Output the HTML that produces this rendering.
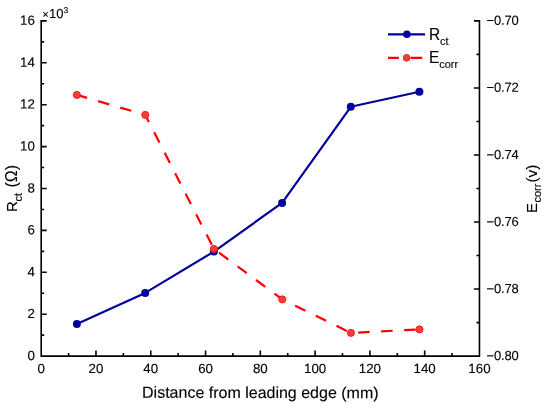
<!DOCTYPE html><html><head><meta charset="utf-8"><style>html,body{margin:0;padding:0;background:#fff;}svg{display:block;}</style></head><body>
<svg width="550" height="409" viewBox="0 0 550 409" font-family="'Liberation Sans', Arial, sans-serif">
<rect width="550" height="409" fill="#fff"/>
<path d="M41.2,20.9V356.1H479.45V20.9" stroke="#000" stroke-width="1.6" fill="none" stroke-linecap="square"/>
<path d="M41.2,335.15h3.0M41.2,314.20h5.5M41.2,293.25h3.0M41.2,272.30h5.5M41.2,251.35h3.0M41.2,230.40h5.5M41.2,209.45h3.0M41.2,188.50h5.5M41.2,167.55h3.0M41.2,146.60h5.5M41.2,125.65h3.0M41.2,104.70h5.5M41.2,83.75h3.0M41.2,62.80h5.5M41.2,41.85h3.0M41.2,20.90h5.5M479.45,20.90h-5.5M479.45,54.42h-3.0M479.45,87.94h-5.5M479.45,121.46h-3.0M479.45,154.98h-5.5M479.45,188.50h-3.0M479.45,222.02h-5.5M479.45,255.54h-3.0M479.45,289.06h-5.5M479.45,322.58h-3.0M68.59,356.1v-3.0M95.98,356.1v-5.5M123.37,356.1v-3.0M150.76,356.1v-5.5M178.15,356.1v-3.0M205.54,356.1v-5.5M232.93,356.1v-3.0M260.32,356.1v-5.5M287.72,356.1v-3.0M315.11,356.1v-5.5M342.50,356.1v-3.0M369.89,356.1v-5.5M397.28,356.1v-3.0M424.67,356.1v-5.5M452.06,356.1v-3.0" stroke="#000" stroke-width="1.6" fill="none"/>
<g font-size="13.3" fill="#000" stroke="#000" stroke-width="0.12">
<text x="34.9" y="360.00" text-anchor="end" transform="rotate(0.1 34.9 360.00)">0</text>
<text x="34.9" y="318.10" text-anchor="end" transform="rotate(0.1 34.9 318.10)">2</text>
<text x="34.9" y="276.20" text-anchor="end" transform="rotate(0.1 34.9 276.20)">4</text>
<text x="34.9" y="234.30" text-anchor="end" transform="rotate(0.1 34.9 234.30)">6</text>
<text x="34.9" y="192.40" text-anchor="end" transform="rotate(0.1 34.9 192.40)">8</text>
<text x="34.9" y="150.50" text-anchor="end" transform="rotate(0.1 34.9 150.50)">10</text>
<text x="34.9" y="108.60" text-anchor="end" transform="rotate(0.1 34.9 108.60)">12</text>
<text x="34.9" y="66.70" text-anchor="end" transform="rotate(0.1 34.9 66.70)">14</text>
<text x="34.9" y="24.80" text-anchor="end" transform="rotate(0.1 34.9 24.80)">16</text>
<text x="486.5" y="24.80" font-size="13" letter-spacing="-0.15" transform="rotate(0.1 486.5 24.80)">−0.70</text>
<text x="486.5" y="91.84" font-size="13" letter-spacing="-0.15" transform="rotate(0.1 486.5 91.84)">−0.72</text>
<text x="486.5" y="158.88" font-size="13" letter-spacing="-0.15" transform="rotate(0.1 486.5 158.88)">−0.74</text>
<text x="486.5" y="225.92" font-size="13" letter-spacing="-0.15" transform="rotate(0.1 486.5 225.92)">−0.76</text>
<text x="486.5" y="292.96" font-size="13" letter-spacing="-0.15" transform="rotate(0.1 486.5 292.96)">−0.78</text>
<text x="486.5" y="360.00" font-size="13" letter-spacing="-0.15" transform="rotate(0.1 486.5 360.00)">−0.80</text>
<text x="41.20" y="373" text-anchor="middle" transform="rotate(0.1 41.20 373)">0</text>
<text x="95.98" y="373" text-anchor="middle" transform="rotate(0.1 95.98 373)">20</text>
<text x="150.76" y="373" text-anchor="middle" transform="rotate(0.1 150.76 373)">40</text>
<text x="205.54" y="373" text-anchor="middle" transform="rotate(0.1 205.54 373)">60</text>
<text x="260.32" y="373" text-anchor="middle" transform="rotate(0.1 260.32 373)">80</text>
<text x="315.11" y="373" text-anchor="middle" transform="rotate(0.1 315.11 373)">100</text>
<text x="369.89" y="373" text-anchor="middle" transform="rotate(0.1 369.89 373)">120</text>
<text x="424.67" y="373" text-anchor="middle" transform="rotate(0.1 424.67 373)">140</text>
<text x="479.45" y="373" text-anchor="middle" transform="rotate(0.1 479.45 373)">160</text>
</g>
<text x="42.2" y="18" font-size="13" stroke="#000" stroke-width="0.12" transform="rotate(0.1 42.2 18)"><tspan font-size="11">×</tspan><tspan x="49.0">10</tspan><tspan font-size="8.5" dy="-5">3</tspan></text>
<text x="260.32" y="398" font-size="16" text-anchor="middle" stroke="#000" stroke-width="0.12" transform="rotate(0.1 260.32 398)">Distance from leading edge (mm)</text>
<g transform="translate(16.9,0) rotate(-90)" stroke="#000" stroke-width="0.12"><text x="-212" y="0" font-size="15">R</text><text x="-201.4" y="4.6" font-size="11">ct</text><text x="-187.6" y="0" font-size="16">(Ω)</text></g>
<g transform="translate(536.8,0) rotate(-90)" stroke="#000" stroke-width="0.12"><text x="-212.9" y="0" font-size="15">E</text><text x="-202.5" y="4.6" font-size="11">corr</text><text x="-182.6" y="0" font-size="15.5">(v)</text></g>
<polyline points="76.9,324.1 145.2,292.9 213.9,251.6 282.1,202.9 350.8,106.8 419.4,91.7" fill="none" stroke="#02029a" stroke-width="2.2" stroke-linejoin="round"/>
<circle cx="76.9" cy="324.1" r="4.0" fill="#02029a"/>
<circle cx="145.2" cy="292.9" r="4.0" fill="#02029a"/>
<circle cx="213.9" cy="251.6" r="4.0" fill="#02029a"/>
<circle cx="282.1" cy="202.9" r="4.0" fill="#02029a"/>
<circle cx="350.8" cy="106.8" r="4.0" fill="#02029a"/>
<circle cx="419.4" cy="91.7" r="4.0" fill="#02029a"/>
<g fill="none" stroke="#ff0000" stroke-width="2.2" stroke-dasharray="11.5 11.5">
<path d="M76.9,94.9L145.3,114.9" stroke-dashoffset="0.85"/>
<path d="M145.3,114.9L213.9,248.9" stroke-dashoffset="3.5"/>
<path d="M213.9,248.9L282.3,299.4" stroke-dashoffset="16.65"/>
<path d="M282.3,299.4L350.9,332.9" stroke-dashoffset="8.7"/>
<path d="M350.9,332.9L419.5,329.4" stroke-dashoffset="15.7"/>
</g>
<circle cx="76.9" cy="94.9" r="3.55" fill="#f43e3a" stroke="#ff1414" stroke-width="0.9"/>
<circle cx="145.3" cy="114.9" r="3.55" fill="#f43e3a" stroke="#ff1414" stroke-width="0.9"/>
<circle cx="213.9" cy="248.9" r="3.55" fill="#f43e3a" stroke="#ff1414" stroke-width="0.9"/>
<circle cx="282.3" cy="299.4" r="3.55" fill="#f43e3a" stroke="#ff1414" stroke-width="0.9"/>
<circle cx="350.9" cy="332.9" r="3.55" fill="#f43e3a" stroke="#ff1414" stroke-width="0.9"/>
<circle cx="419.5" cy="329.4" r="3.55" fill="#f43e3a" stroke="#ff1414" stroke-width="0.9"/>
<line x1="388" y1="34.3" x2="425" y2="34.3" stroke="#02029a" stroke-width="2.2"/>
<circle cx="406.9" cy="34.3" r="3.8" fill="#02029a"/>
<path d="M388,57.8H398.9M410.5,57.8H422.2" stroke="#ff0000" stroke-width="2.2"/>
<circle cx="406.6" cy="57.8" r="3.35" fill="#f43e3a" stroke="#ff1414" stroke-width="0.9"/>
<text transform="translate(428.9,39.7) scale(1,1.06)" font-size="15.5" stroke="#000" stroke-width="0.12">R<tspan font-size="11" dy="4.6">ct</tspan></text>
<text transform="translate(428.9,63.4) scale(1,1.06)" font-size="15.5" stroke="#000" stroke-width="0.12">E<tspan font-size="11" dy="4.0">corr</tspan></text>
</svg></body></html>
